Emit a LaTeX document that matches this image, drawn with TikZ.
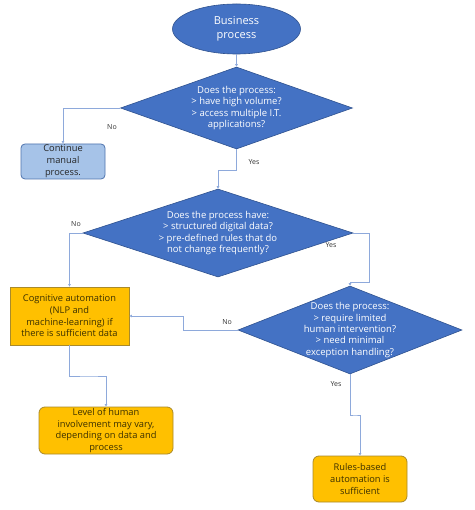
\documentclass[tikz,border=0pt]{standalone}
\usepackage{fontspec}
\setmainfont{Open Sans}
\usetikzlibrary{shapes.geometric,arrows.meta}
\definecolor{dblue}{HTML}{4472C4}
\definecolor{dblueb}{HTML}{2F528F}
\definecolor{lblue}{HTML}{A6C3E8}
\definecolor{lblueb}{HTML}{4F74AE}
\definecolor{orng}{HTML}{FFC000}
\definecolor{orngb}{HTML}{A98A2A}
\definecolor{conn}{HTML}{8EA9DB}
\definecolor{otext}{HTML}{3B3000}
\tikzset{
  x=1pt, y=-1pt,
  dia/.style={diamond, draw=dblueb, fill=dblue, line width=0.6pt, inner sep=0pt},
  diatext/.style={text=white, align=center, inner sep=0pt, font=\fontsize{9.5}{11.4}\selectfont},
  ovalnode/.style={ellipse, draw=dblueb, fill=dblue, line width=0.6pt, inner sep=0pt, text=white, align=center, font=\fontsize{11}{13.5}\selectfont},
  contbox/.style={rectangle, rounded corners=4pt, draw=lblueb, fill=lblue, line width=0.8pt, inner sep=0pt, align=center, text=black!85, font=\fontsize{9.3}{12}\selectfont},
  orbox/.style={rectangle, draw=orngb, fill=orng, line width=0.8pt, inner sep=0pt, align=center, text=otext, font=\fontsize{9.3}{11.6}\selectfont},
  orround/.style={orbox, rounded corners=6pt},
  link/.style={draw=conn, line width=0.8pt, -{Triangle[length=2.5pt,width=2.5pt]}},
  lbl/.style={font=\fontsize{7}{8}\selectfont, text=black!80, inner sep=0pt}
}
\begin{document}
\begin{tikzpicture}
\useasboundingbox (0,0) rectangle (474,510);
\fill[white] (0,0) rectangle (474,510);
% nodes
\node[ovalnode, minimum width=128pt, minimum height=50pt] (bp) at (236.5,29) {Business\\process};
\node[dia, minimum width=232pt, minimum height=82pt] (d1) at (236.5,108) {};
\node[diatext] (t1) at (d1.center) {Does the process:\\> have high volume?\\> access multiple I.T.\\applications?};
\node[contbox, minimum width=84pt, minimum height=35pt] (cont) at (63,161.5) {Continue\\manual\\process.};
\node[dia, minimum width=270pt, minimum height=88pt] (d2) at (218,233) {};
\node[diatext] (t2) at (d2.center) {Does the process have:\\> structured digital data?\\> pre-defined rules that do\\not change frequently?};
\node[orbox, minimum width=119pt, minimum height=58pt] (cog) at (69.5,316) {Cognitive automation\\(NLP and\\machine-learning) if\\there is sufficient data};
\node[dia, minimum width=224pt, minimum height=88pt] (d3) at (350,330) {};
\node[diatext] (t3) at (d3.center) {Does the process:\\> require limited\\human intervention?\\> need minimal\\exception handling?};
\node[orround, minimum width=134pt, minimum height=47pt] (lvl) at (106,430.5) {Level of human\\involvement may vary,\\depending on data and\\process};
\node[orround, minimum width=94pt, minimum height=46pt] (rules) at (360,479) {Rules-based\\automation is\\sufficient};
% bend points
\coordinate (k1) at (218,170);
\coordinate (k2) at (369,282);
\coordinate (k3) at (183,316);
\coordinate (k4) at (90,376);
\coordinate (k5) at (355,415);
% connectors
\draw[link] (bp.south) -- (d1.north);
\draw[link] (d1.west) -| (cont.north);
\draw[link] (d1.south) |- (k1) -- (d2.north);
\draw[link] (d2.west) -| (cog.north);
\draw[link] (d2.east) -| (k2) -| (d3.north);
\draw[link] (d3.west) -| (k3) -- (cog.east);
\draw[link] (cog.south) |- (k4) -| (lvl.north);
\draw[link] (d3.south) |- (k5) -| (rules.north);
% labels
\node[lbl] (l1) at (112,127) {No};
\node[lbl] (l2) at (254,162) {Yes};
\node[lbl] (l3) at (76,224) {No};
\node[lbl] (l4) at (331,245) {Yes};
\node[lbl] (l5) at (227,322) {No};
\node[lbl] (l6) at (336,384) {Yes};
\end{tikzpicture}
\end{document}
